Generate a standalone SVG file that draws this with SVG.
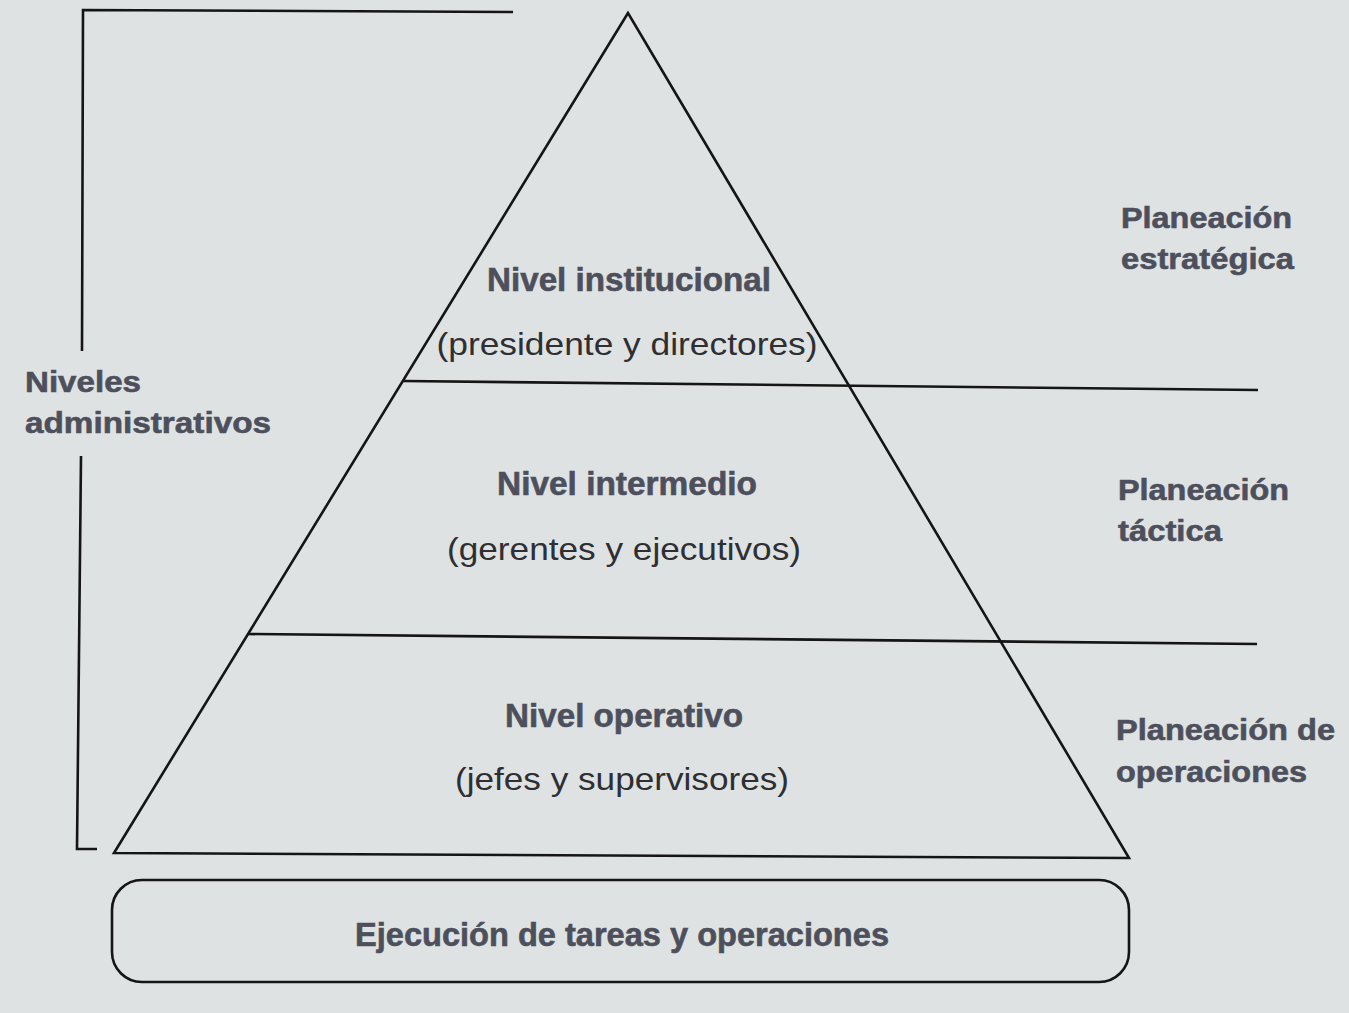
<svg xmlns="http://www.w3.org/2000/svg" width="1349" height="1013" viewBox="0 0 1349 1013">
<style>
.ln{stroke:#151515;stroke-width:2.6;fill:none;stroke-linecap:butt}
.b{font-family:"Liberation Sans",Arial,sans-serif;font-weight:bold;fill:#4d505c;stroke:#4d505c;stroke-width:0.6}
.r{font-family:"Liberation Sans",Arial,sans-serif;fill:#2f2f33}
</style>
<rect width="1349" height="1013" fill="#dee2e2"/>
<g id="pyramid">
<polygon points="628,13 114,853 1129,858" fill="#e8e6dc" class="ln"/>
</g>
<g id="connectors">
<polyline class="ln" points="513,12 83,10 82,351"/>
<polyline class="ln" points="81,456 77,849 97,849"/>
<line class="ln" x1="403" y1="381" x2="1258" y2="390"/>
<line class="ln" x1="248" y1="634" x2="1257" y2="644"/>
</g>
<g id="nivel-institucional">
<text class="b" x="629" y="291" font-size="33" text-anchor="middle" textLength="284" lengthAdjust="spacingAndGlyphs">Nivel institucional</text>
<text class="r" x="627" y="355" font-size="32" text-anchor="middle" textLength="381" lengthAdjust="spacingAndGlyphs">(presidente y directores)</text>
</g>
<g id="nivel-intermedio">
<text class="b" x="627" y="495" font-size="33" text-anchor="middle" textLength="260" lengthAdjust="spacingAndGlyphs">Nivel intermedio</text>
<text class="r" x="624" y="560" font-size="32" text-anchor="middle" textLength="354" lengthAdjust="spacingAndGlyphs">(gerentes y ejecutivos)</text>
</g>
<g id="nivel-operativo">
<text class="b" x="624" y="727" font-size="33" text-anchor="middle" textLength="238" lengthAdjust="spacingAndGlyphs">Nivel operativo</text>
<text class="r" x="622" y="790" font-size="32" text-anchor="middle" textLength="334" lengthAdjust="spacingAndGlyphs">(jefes y supervisores)</text>
</g>
<g id="ejecucion">
<rect x="112" y="880" width="1017" height="102" rx="30" fill="#e8e6dc" class="ln"/>
<text class="b" x="622" y="946" font-size="33" text-anchor="middle" textLength="534" lengthAdjust="spacingAndGlyphs">Ejecución de tareas y operaciones</text>
</g>
<g id="niveles-administrativos">
<text class="b" x="25" y="392" font-size="30" textLength="116" lengthAdjust="spacingAndGlyphs">Niveles</text>
<text class="b" x="25" y="433" font-size="30" textLength="246" lengthAdjust="spacingAndGlyphs">administrativos</text>
</g>
<g id="planeacion-estrategica">
<text class="b" x="1121" y="228" font-size="30" textLength="171" lengthAdjust="spacingAndGlyphs">Planeación</text>
<text class="b" x="1121" y="269" font-size="30" textLength="173" lengthAdjust="spacingAndGlyphs">estratégica</text>
</g>
<g id="planeacion-tactica">
<text class="b" x="1118" y="500" font-size="30" textLength="171" lengthAdjust="spacingAndGlyphs">Planeación</text>
<text class="b" x="1118" y="541" font-size="30" textLength="104" lengthAdjust="spacingAndGlyphs">táctica</text>
</g>
<g id="planeacion-operaciones">
<text class="b" x="1116" y="740" font-size="30" textLength="219" lengthAdjust="spacingAndGlyphs">Planeación de</text>
<text class="b" x="1116" y="782" font-size="30" textLength="191" lengthAdjust="spacingAndGlyphs">operaciones</text>
</g>
</svg>
